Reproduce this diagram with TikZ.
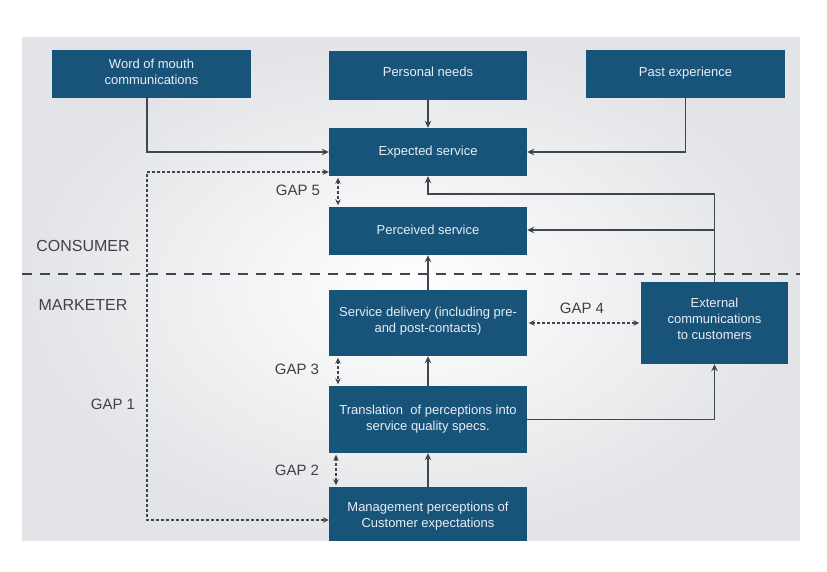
\documentclass[tikz,border=0pt]{standalone}
\usepackage{fontspec}
\setmainfont{Liberation Sans}
\usetikzlibrary{arrows.meta,calc}
\definecolor{boxblue}{RGB}{24,83,122}
\definecolor{boxtext}{RGB}{232,238,243}
\definecolor{linegray}{RGB}{62,70,80}
\definecolor{labelgray}{RGB}{64,66,70}
\definecolor{bgedge}{RGB}{227,228,231}
\tikzset{
  box/.style={fill=boxblue, text=boxtext, align=center, inner sep=0pt,
    font=\fontsize{13}{16}\selectfont},
  conn/.style={draw=linegray, line width=1.7pt, -{Stealth[length=7pt,width=6.5pt]}},
  gapln/.style={draw=linegray, line width=1.3pt, dash pattern=on 3pt off 2pt,
    {Stealth[length=6pt,width=5.5pt]}-{Stealth[length=6pt,width=5.5pt]}},
  lbl/.style={text=labelgray, font=\fontsize{15}{18}\selectfont, inner sep=0pt},
  side/.style={text=labelgray, font=\fontsize{16}{19}\selectfont, inner sep=0pt}
}
\begin{document}
\begin{tikzpicture}[x=1pt,y=-1pt]
\useasboundingbox (0,0) rectangle (827,572);
\fill[white] (0,0) rectangle (827,572);
\shade[inner color=white, outer color=bgedge, shading=radial] (22,38) rectangle (800,540);

% boxes
\node[box, minimum width=199, minimum height=48, text depth=4pt] (wom) at (151.5,74) {Word of mouth\\communications};
\node[box, minimum width=198, minimum height=49, text depth=6.5pt] (pn) at (428,75.5) {Personal needs};
\node[box, minimum width=199, minimum height=48, text depth=5pt] (pe) at (685.5,74) {Past experience};
\node[box, minimum width=198, minimum height=48] (es) at (428,152) {Expected service};
\node[box, minimum width=198, minimum height=48, text depth=3pt] (ps) at (428,231) {Perceived service};
\node[box, minimum width=198, minimum height=66, text depth=7pt] (sd) at (428,323) {Service delivery (including pre-\\and post-contacts)};
\node[box, minimum width=147, minimum height=82, text depth=7.5pt] (ec) at (714.5,323) {External\\communications\\to customers};
\node[box, minimum width=198, minimum height=67] (tr) at (428,419.5) {Translation\ \ of perceptions into\\service quality specs.};
\begin{scope}
\clip (22,38) rectangle (800,540);
\node[box, minimum width=198, minimum height=58] (mp) at (428,516) {Management perceptions of\\Customer expectations};
\end{scope}

% consumer / marketer divider
\draw[draw=linegray, line width=2.6pt, dash pattern=on 10pt off 8pt] (22,274) -- (800,274);
\node[side] (cons) at (83,246) {CONSUMER};
\node[side] (mark) at (83,305) {MARKETER};

% connectors
\draw[conn] ([xshift=-4.5pt]wom.south) |- (es.west);
\draw[conn] (pn.south) -- (es.north);
\draw[conn] (pe.south) |- (es.east);
\coordinate (ectop) at (ec.north |- 0,194);
\draw[conn] (ec.north) -- (ectop) -| (es.south);
\draw[conn] (ec.north |- 0,230) -- (ps.east |- 0,230);
\draw[conn] (sd.north) -- (ps.south);
\draw[conn] (tr.north) -- (sd.south);
\draw[conn] (mp.north) -- (tr.south);
\draw[conn] (tr.east) -| (ec.south);

% gaps
\draw[gapln, shorten <=1.5pt, shorten >=1.5pt] ([xshift=-90pt]es.south) -- ([xshift=-90pt]ps.north);
\node[lbl] (g5) at (298,190) {GAP 5};
\draw[gapln, shorten <=1.5pt, shorten >=1.5pt] (sd.east) -- (ec.west);
\node[lbl] (g4) at (582,308) {GAP 4};
\draw[gapln, shorten <=1.5pt, shorten >=1.5pt] ([xshift=-90pt]sd.south) -- ([xshift=-90pt]tr.north);
\node[lbl] (g3) at (297,369) {GAP 3};
\draw[gapln, shorten <=1.5pt, shorten >=1.5pt] ([xshift=-92pt]tr.south) -- ([xshift=-92pt]mp.north);
\node[lbl] (g2) at (297,470) {GAP 2};
\coordinate (g1a) at (147,172);
\coordinate (g1b) at (147,520);
\draw[gapln] (es.west |- g1a) -- (g1a) -- (g1b) -- (mp.west |- g1b);
\node[lbl] (g1) at (113,404) {GAP 1};
\end{tikzpicture}
\end{document}
